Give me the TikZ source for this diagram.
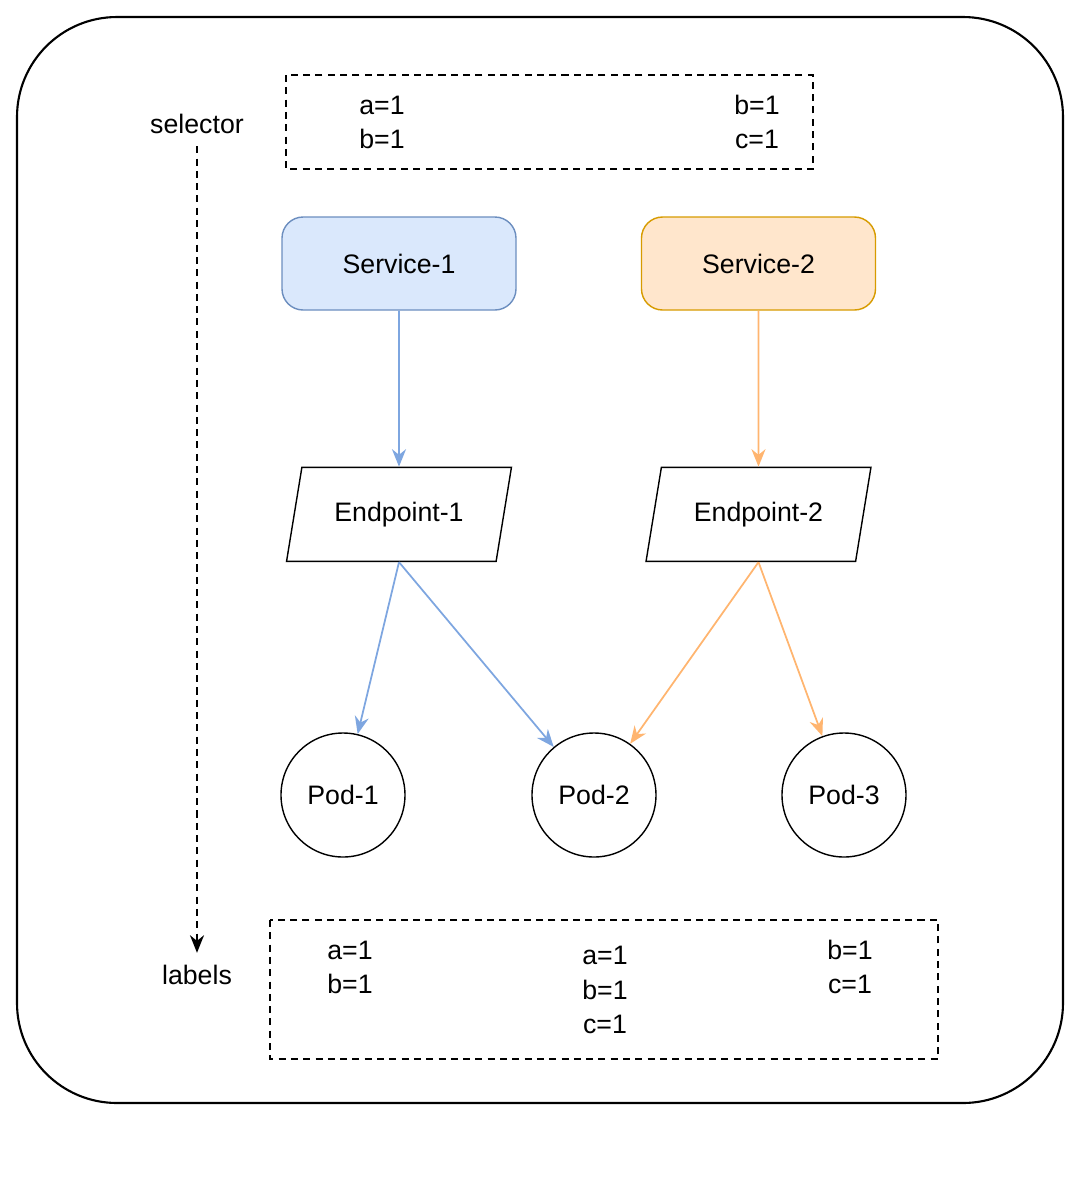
\documentclass[tikz,border=0pt]{standalone}
\usepackage{fontspec}
\setmainfont{Liberation Sans}
\usetikzlibrary{positioning,shapes.geometric,arrows.meta}
\definecolor{svcblue}{HTML}{DAE8FC}
\definecolor{svcbluedraw}{HTML}{6C8EBF}
\definecolor{svcorange}{HTML}{FFE6CC}
\definecolor{svcorangedraw}{HTML}{D79B00}
\definecolor{arrblue}{HTML}{7EA6E0}
\definecolor{arrorange}{HTML}{FFB570}
\tikzset{
  svc/.style={rectangle, rounded corners=6pt, minimum width=2.34cm, minimum height=0.93cm},
  ep/.style={trapezium, trapezium left angle=76, trapezium right angle=104, trapezium stretches=true, draw, minimum width=2.26cm, minimum height=0.94cm},
  pod/.style={circle, draw, minimum size=1.24cm},
  lbl/.style={align=center, font=\fontsize{7.6}{9.7}\selectfont},
  finedash/.style={dash pattern=on 2pt off 1.5pt},
  edge/.style={-{Stealth[length=5pt,width=4pt]}, line width=0.5pt}
}
\begin{document}
\begin{tikzpicture}[font=\fontsize{7.6}{9}\selectfont]
  \useasboundingbox (0,0) rectangle (10.8,-12);
  \draw[rounded corners=1cm, line width=0.6pt] (0.17,-0.17) rectangle (10.63,-11.03);

  % selector / labels boxes
  \draw[finedash] (2.86,-0.75) rectangle (8.13,-1.69);
  \node[lbl] (sel1) at (3.82,-1.22) {a=1\\b=1};
  \node[lbl] (sel2) at (7.57,-1.22) {b=1\\c=1};
  \draw[finedash] (2.70,-9.20) rectangle (9.38,-10.59);
  \node[lbl] (lab1) at (3.50,-9.67) {a=1\\b=1};
  \node[lbl] (lab2) at (6.05,-9.90) {a=1\\b=1\\c=1};
  \node[lbl] (lab3) at (8.50,-9.67) {b=1\\c=1};

  \node (selector) at (1.97,-1.24) {selector};
  \node (labels) at (1.97,-9.75) {labels};
  \draw[finedash, edge] (selector) -- (labels);

  % services
  \node[svc, fill=svcblue, draw=svcbluedraw] (s1) at (3.99,-2.635) {Service-1};
  \node[svc, fill=svcorange, draw=svcorangedraw] (s2) at (7.585,-2.635) {Service-2};
  \node[ep, below=1.56cm of s1] (e1) {Endpoint-1};
  \node[ep, below=1.56cm of s2] (e2) {Endpoint-2};

  % pods
  \node[pod] (p1) at (3.43,-7.95) {Pod-1};
  \node[pod] (p2) at (5.94,-7.95) {Pod-2};
  \node[pod] (p3) at (8.44,-7.95) {Pod-3};

  \draw[edge, arrblue] (s1) -- (e1);
  \draw[edge, arrorange] (s2) -- (e2);
  \draw[edge, arrblue] (e1.south) -- (p1);
  \draw[edge, arrblue] (e1.south) -- (p2);
  \draw[edge, arrorange] (e2.south) -- (p2);
  \draw[edge, arrorange] (e2.south) -- (p3);
\end{tikzpicture}
\end{document}
